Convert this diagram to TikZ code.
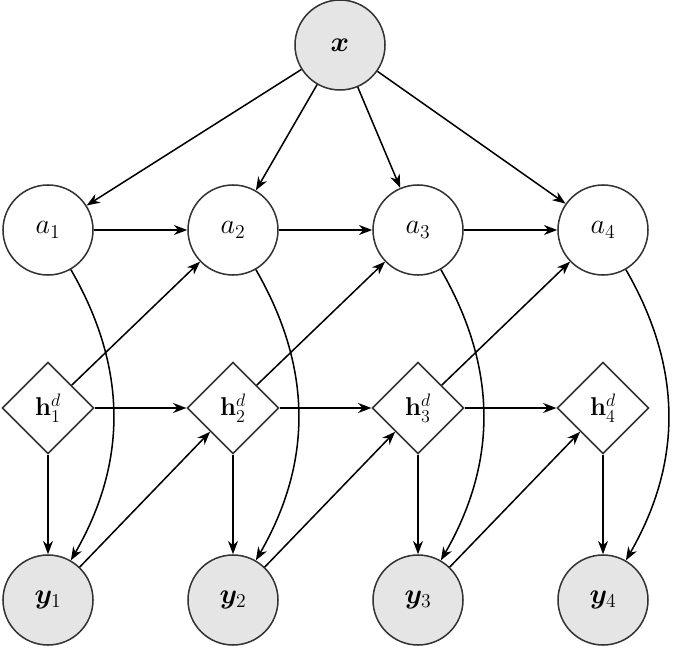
\RequirePackage{fix-cm}
\documentclass[tikz,border=0pt]{standalone}
\usepackage{amsmath,amssymb,bm}
\usetikzlibrary{shapes.geometric,arrows.meta}

\begin{document}
\begin{tikzpicture}[x=0.03cm,y=-0.03cm,
  var/.style={circle,draw=black!80,line width=1.3pt,minimum size=2.7cm,inner sep=0pt,font=\fontsize{24}{28}\selectfont},
  obs/.style={var,fill=black!10},
  det/.style={diamond,draw=black!80,line width=1.3pt,minimum size=2.75cm,inner sep=0pt,font=\fontsize{22}{26}\selectfont},
  arr/.style={-{Stealth[length=4mm,width=3mm]},line width=1.3pt}]
\useasboundingbox (0,0) rectangle (673,651);

% top input
\node[obs] (x) at (340,45) {$\bm{x}$};

% one column per step
\foreach \i/\xx in {1/48,2/233,3/418,4/603}{
  \node[var] (a\i) at (\xx,230) {$a_{\i}$};
  \node[det] (h\i) at (\xx,408) {$\mathbf{h}^{d}_{\i}$};
  \node[obs] (y\i) at (\xx,600) {$\bm{y}_{\i}$};
  \draw[arr] (x) -- (a\i);
  \draw[arr] (h\i) -- (y\i);
  \draw[arr] (a\i) to[out=-60,in=60] (y\i);
}

\foreach \i/\j in {1/2,2/3,3/4}{
  \draw[arr] (a\i) -- (a\j);
  \draw[arr] (h\i) -- (h\j);
  \draw[arr] (h\i) -- (a\j);
  \draw[arr] (y\i) -- (h\j);
}
\end{tikzpicture}
\end{document}
